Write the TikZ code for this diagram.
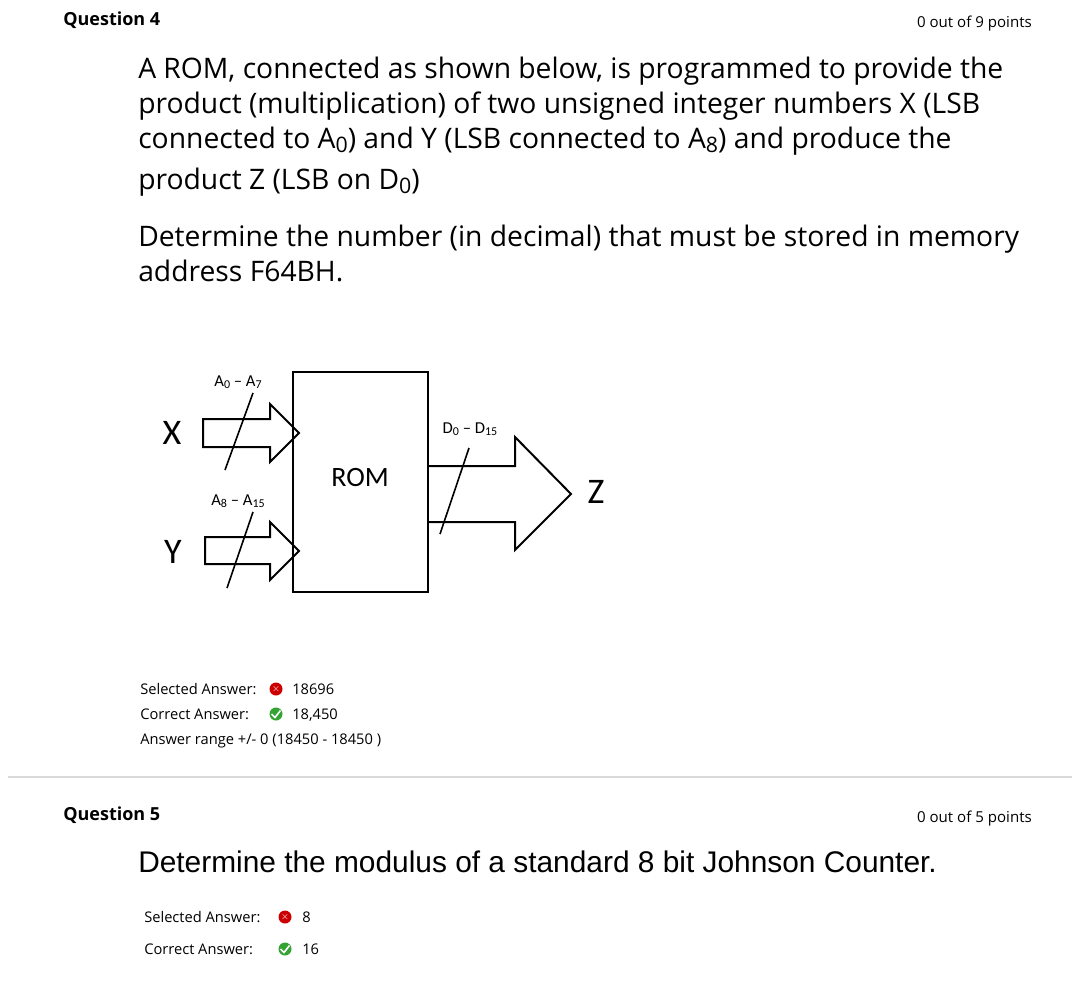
\documentclass[tikz,border=0pt]{standalone}
\usepackage{fontspec}
\setmainfont{Open Sans}
\newfontfamily\calfnt{Carlito}
\newfontfamily\arialfnt{Liberation Sans}
\newcommand{\mysb}[1]{\raisebox{-0.25ex}{\fontsize{16pt}{16pt}\selectfont #1}}
\newcommand{\myds}[1]{\raisebox{-0.2ex}{\fontsize{9pt}{9pt}\selectfont #1}}
\begin{document}
\begin{tikzpicture}[x=0.75pt,y=-0.75pt,
  bus/.style={draw=black,line width=1.5pt,fill=white,line join=miter},
  sl/.style={draw=black,line width=1.2pt},
  tl/.style={anchor=base west,inner sep=0pt},
  qt/.style={tl,font=\fontsize{13.5pt}{16pt}\selectfont\bfseries},
  ptst/.style={anchor=base east,inner sep=0pt,font=\fontsize{11.3pt}{13pt}\selectfont},
  bt/.style={tl,font=\fontsize{21.2pt}{24pt}\selectfont},
  anst/.style={tl,font=\fontsize{11pt}{13pt}\selectfont},
  dl/.style={inner sep=0pt,font=\calfnt\fontsize{27pt}{30pt}\selectfont},
  sml/.style={inner sep=0pt,font=\calfnt\fontsize{12.5pt}{14pt}\selectfont}]
\useasboundingbox[fill=white] (0,0) rectangle (1073,984);
\node[qt] (q4) at (63,26) {Question 4};
\node[ptst] (p4) at (1032,28) {0 out of 9 points};
\node[bt] (l1) at (138,79) {A ROM, connected as shown below, is programmed to provide the};
\node[bt] (l2) at (138,114) {product (multiplication) of two unsigned integer numbers X (LSB};
\node[bt] (l3) at (138,149) {connected to A\mysb{0}) and Y (LSB connected to A\mysb{8}) and produce the};
\node[bt] (l4) at (138,190) {product Z (LSB on D\mysb{0})};
\node[bt] (l5) at (138,246) {Determine the number (in decimal) that must be stored in memory};
\node[bt] (l6) at (138,281) {address F64BH.};
% diagram
\draw[bus] (203,419) -- (270,419) -- (270,404) -- (299,433) -- (270,462) -- (270,447) -- (203,447) -- cycle;
\draw[bus] (205,537) -- (270,537) -- (270,522) -- (299,551) -- (270,580) -- (270,564) -- (205,564) -- cycle;
\draw[bus] (428,466) -- (515,466) -- (515,437) -- (571,494) -- (515,550) -- (515,522) -- (428,522);
\node[draw=black,line width=1.5pt,minimum width=135*0.75pt,minimum height=220*0.75pt,inner sep=0pt] (rom) at (360.5,482) {};
\node[inner sep=0pt,font=\calfnt\fontsize{21pt}{24pt}\selectfont] (romt) at (360,478) {ROM};
\draw[sl] (225,470) -- (253,393);
\draw[sl] (227,588) -- (253,512);
\draw[sl] (440,534) -- (469,448);
\node[dl] (X) at (172,433) {X};
\node[dl] (Y) at (173,552) {Y};
\node[dl] (Z) at (596,492) {Z};
\node[sml] (a1) at (238,382) {A\myds{0} \textendash{} A\myds{7}};
\node[sml] (a2) at (238,501) {A\myds{8} \textendash{} A\myds{15}};
\node[sml] (d1) at (470,429) {D\myds{0} \textendash{} D\myds{15}};
% answers q4
\node[anst] (s4) at (140,694) {Selected Answer:};
\node[circle,fill=red!80!black,minimum size=13*0.75pt,inner sep=0pt,font=\fontsize{7pt}{7pt}\selectfont\bfseries\color{white}] (i1) at (276,689) {$\times$};
\node[anst] (v1) at (292,694) {18696};
\node[anst] (c4) at (140,719) {Correct Answer:};
\node[circle,fill=green!55!black!80,minimum size=13*0.75pt,inner sep=0pt] (i2) at (276,714) {};
\draw[white,line width=1.2pt] (271.5,714) -- (275,717.5) -- (280.5,710.5);
\node[anst] (v2) at (292,719) {18,450};
\node[anst] (r4) at (140,744) {Answer range +/- 0 (18450 - 18450 )};
\draw[gray!30,line width=0.8pt] (8,777) -- (1072,777);
% q5
\node[qt] (q5) at (63,820) {Question 5};
\node[ptst] (p5) at (1032,822) {0 out of 5 points};
\node[tl,font=\arialfnt\fontsize{22.4pt}{26pt}\selectfont] (m5) at (138,872) {Determine the modulus of a standard 8 bit Johnson Counter.};
\node[anst] (s5) at (144,922) {Selected Answer:};
\node[circle,fill=red!80!black,minimum size=13*0.75pt,inner sep=0pt,font=\fontsize{7pt}{7pt}\selectfont\bfseries\color{white}] (i3) at (285,917) {$\times$};
\node[anst] (v3) at (302,922) {8};
\node[anst] (c5) at (144,954) {Correct Answer:};
\node[circle,fill=green!55!black!80,minimum size=13*0.75pt,inner sep=0pt] (i4) at (285,949) {};
\draw[white,line width=1.2pt] (280.5,949) -- (284,952.5) -- (289.5,945.5);
\node[anst] (v4) at (302,954) {16};
\end{tikzpicture}
\end{document}
